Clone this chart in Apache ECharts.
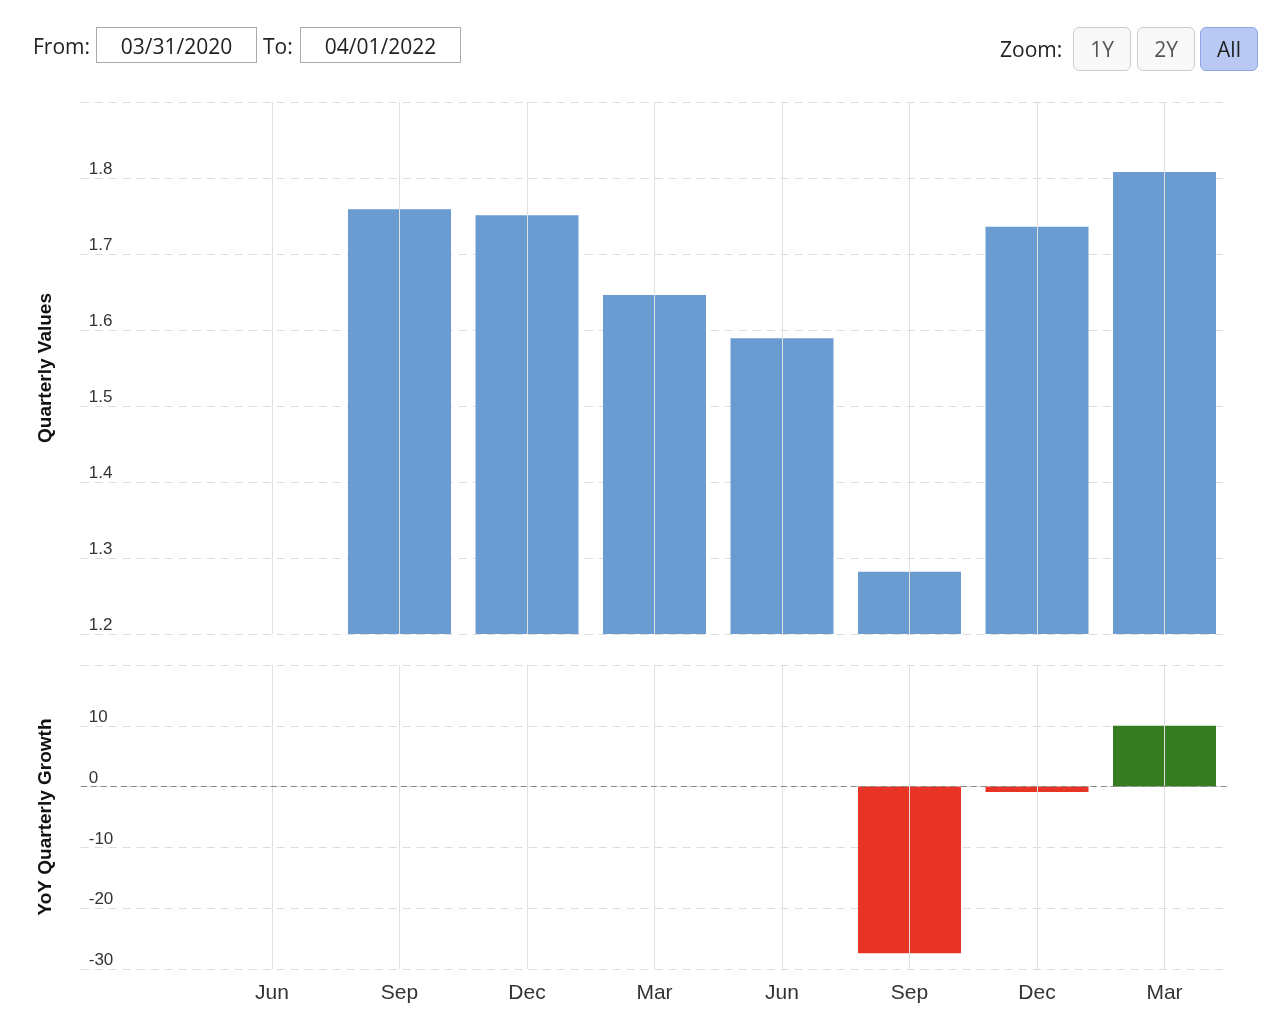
<!DOCTYPE html>
<html>
<head>
<meta charset="utf-8">
<script src="https://cdn.jsdelivr.net/npm/echarts@6/dist/echarts.min.js"></script>
<style>
body{margin:0;font-family:"Open Sans",Arial,sans-serif;background:#fff;}
#chart{position:absolute;left:0;top:0;width:1280px;height:1012px;}
.ctl{position:absolute;font-size:21px;color:#222;z-index:2;}
.box{position:absolute;border:1px solid #aaa;font-size:21px;text-align:center;line-height:36px;height:36px;box-sizing:border-box;}
.btn{position:absolute;border:1px solid #ccc;border-radius:6px;font-size:21px;text-align:center;line-height:42px;height:44px;width:58px;color:#555;background:#f8f8f8;box-sizing:border-box;}
</style>
</head>
<body>
<div id="chart"></div>
<div class="ctl" style="left:33px;top:32px;">From:</div>
<div class="box ctl" style="left:96px;top:27px;width:161px;">03/31/2020</div>
<div class="ctl" style="left:263px;top:32px;">To:</div>
<div class="box ctl" style="left:300px;top:27px;width:161px;">04/01/2022</div>
<div class="ctl" style="left:1000px;top:35px;">Zoom:</div>
<div class="btn ctl" style="left:1073px;top:27px;">1Y</div>
<div class="btn ctl" style="left:1137px;top:27px;">2Y</div>
<div class="btn ctl" style="left:1200px;top:27px;background:#b9c9f3;border-color:#8ea6e0;color:#222;">All</div>
<script>
var categories = ['', 'Jun', 'Sep', 'Dec', 'Mar', 'Jun', 'Sep', 'Dec', 'Mar'];
var quarterlyValues = [null, null, 1.759, 1.751, 1.646, 1.589, 1.282, 1.736, 1.808];
var yoyGrowth = [null, null, null, null, null, null, -27.4, -0.9, 10.0];

var chart = echarts.init(document.getElementById('chart'));
var vlines = [];
for (var i = 1; i < categories.length; i++) vlines.push({xAxis: i});
var vlineStyle = {symbol: 'none', silent: true, label: {show: false},
  lineStyle: {color: '#e0e0e0', type: 'solid', width: 1}, data: vlines};

var option = {
  animation: false,
  grid: [
    {left: 80.75, width: 1147.5, top: 102, height: 532},
    {left: 80.75, width: 1147.5, top: 665, height: 304}
  ],
  xAxis: [
    {type: 'category', gridIndex: 0, data: categories, axisLine: {show: false}, axisTick: {show: false}, axisLabel: {show: false}},
    {type: 'category', gridIndex: 1, data: categories, axisLine: {show: false}, axisTick: {show: false},
      axisLabel: {fontSize: 21, color: '#333', margin: 14}}
  ],
  yAxis: [
    {type: 'value', gridIndex: 0, min: 1.2, max: 1.9, interval: 0.1,
      name: 'Quarterly Values', nameLocation: 'middle', nameGap: 25,
      nameTextStyle: {fontSize: 19, fontWeight: 'bold', color: '#111'},
      axisLine: {show: false}, axisTick: {show: false},
      axisLabel: {inside: true, verticalAlign: 'bottom', margin: 8, fontSize: 17, color: '#333',
        formatter: function (v) { return v > 1.85 ? '' : v.toFixed(1); }},
      splitLine: {lineStyle: {color: '#ddd', type: [8, 6]}}},
    {type: 'value', gridIndex: 1, min: -30, max: 20, interval: 10,
      name: 'YoY Quarterly Growth', nameLocation: 'middle', nameGap: 25,
      nameTextStyle: {fontSize: 19, fontWeight: 'bold', color: '#111'},
      axisLine: {show: false}, axisTick: {show: false},
      axisLabel: {inside: true, verticalAlign: 'bottom', margin: 8, fontSize: 17, color: '#333',
        formatter: function (v) { return v > 15 ? '' : String(v); }},
      splitLine: {lineStyle: {color: '#ddd', type: [8, 6]}}}
  ],
  series: [
    {type: 'bar', xAxisIndex: 0, yAxisIndex: 0, data: quarterlyValues, barWidth: 103,
      itemStyle: {color: '#6a9bd1'}, markLine: vlineStyle},
    {type: 'bar', xAxisIndex: 1, yAxisIndex: 1, barWidth: 103,
      data: yoyGrowth.map(function (v) {
        return v === null ? null : {value: v, itemStyle: {color: v < 0 ? '#e83425' : '#367c21'}};
      }),
      markLine: {symbol: 'none', silent: true, label: {show: false},
        data: vlines.concat([{yAxis: 0, lineStyle: {color: '#888', type: [6, 4]}}]),
        lineStyle: {color: '#e0e0e0', type: 'solid', width: 1}}}
  ]
};
chart.setOption(option);
</script>
</body>
</html>
